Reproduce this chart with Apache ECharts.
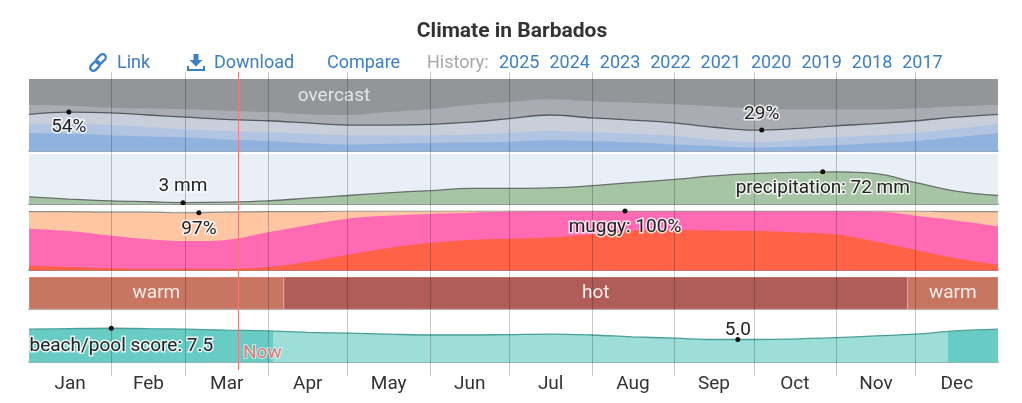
<!DOCTYPE html>
<html>
<head>
<meta charset="utf-8">
<script src="https://cdn.jsdelivr.net/npm/echarts@6/dist/echarts.min.js"></script>
<style>
  html, body { margin: 0; padding: 0; background: #fff; }
  #chart { width: 1022px; height: 403px; }
</style>
</head>
<body>
<div id="chart"></div>
<script>
// jours de l'année où les valeurs ont été relevées
const days = [0, 15, 31, 45, 59, 74, 90, 105, 120, 135, 151, 166, 181, 196, 212, 227, 243, 258, 273, 288, 304, 319, 334, 349, 365];

// couverture nuageuse : limites cumulées en %
const cloudMostlyCloudyTop = [64, 63, 60, 59, 58, 56, 54, 51, 50, 54, 58, 64, 68, 72, 69, 67, 65, 62, 59, 58, 58, 58, 59, 62, 64];
const cloudPartlyTop = [51, 54, 53, 50, 47, 44, 42, 39, 36, 36, 37, 40, 45, 50, 46, 43, 39, 33, 29, 31, 35, 38, 42, 47, 51];
const cloudMostlyClearTop = [38, 38, 36, 33, 30, 28, 26, 24, 22, 22, 22, 23, 25, 28, 26, 24, 21, 16, 12, 15, 19, 22, 25, 31, 38];
const cloudClearTop = [25, 24, 22, 20, 19, 16, 14, 11, 9, 10, 11, 12, 13, 15, 14, 12, 9, 7, 5, 6, 8, 11, 14, 19, 25];

// précipitations (mm)
const precip = [16, 11, 7, 5, 3, 4, 7, 13, 19, 25, 30, 35, 35, 36, 41, 48, 55, 63, 68, 71, 72, 68, 48, 29, 19];

// humidité : limites cumulées en %
const humidTop = [99, 99, 98, 98, 97, 98, 99, 99, 100, 100, 100, 100, 100, 100, 100, 100, 100, 100, 100, 100, 100, 100, 100, 99, 99];
const humidMuggyTop = [70, 66, 58, 52, 49, 51, 64, 76, 87, 92, 95, 97, 99, 100, 100, 100, 100, 100, 100, 100, 100, 99, 92, 84, 74];
const humidOppressiveTop = [7, 5, 3, 2, 2, 2, 5, 14, 26, 37, 46, 51, 53, 55, 60, 67, 68, 67, 66, 64, 60, 48, 34, 20, 9];

// bandes de température
const tempBands = [[0, 96], [96, 331], [331, 365]];
const tempNames = ['warm', 'hot', 'warm'];

// score plage / piscine
const beach = [7.3, 7.4, 7.5, 7.4, 7.3, 7.1, 6.9, 6.6, 6.4, 6.2, 6.0, 6.0, 6.1, 6.2, 6.0, 5.6, 5.3, 5.0, 5.0, 5.1, 5.4, 5.8, 6.2, 6.9, 7.3];
const beachSeason = [[0, 92], [346, 365]];

// mois
const monthNames = ['Jan', 'Feb', 'Mar', 'Apr', 'May', 'Jun', 'Jul', 'Aug', 'Sep', 'Oct', 'Nov', 'Dec'];
const monthMids = [15.5, 45, 74.5, 105, 135.5, 166, 196.5, 227.5, 258, 288.5, 319, 349.5];
const monthStarts = [31, 59, 90, 120, 151, 181, 212, 243, 273, 304, 334];
const nowDay = 78.7;

const years = ['2025', '2024', '2023', '2022', '2021', '2020', '2019', '2018', '2017'];

window.onload = init;

function init() {
    diagrammeClimat();
}

function pairs(values) {
    return days.map((d, i) => [d, values[i]]);
}

function areaSerie(grid, values, color, line) {
    return {
        type: 'line',
        xAxisIndex: grid,
        yAxisIndex: grid,
        data: pairs(values),
        smooth: 0.4,
        showSymbol: false,
        silent: true,
        lineStyle: line || { width: 0 },
        areaStyle: { color: color, opacity: 1 }
    };
}

function pointLabel(coord, text, position, offset) {
    return {
        coord: coord,
        symbol: 'circle',
        symbolSize: 5,
        itemStyle: { color: '#111' },
        label: {
            show: true,
            formatter: text,
            position: position,
            distance: 4,
            offset: offset || [0, 0],
            fontFamily: 'Roboto',
            fontSize: 19,
            color: '#222',
            textBorderColor: 'rgba(255,255,255,0.8)',
            textBorderWidth: 3
        }
    };
}

function diagrammeClimat() {
    let chart = echarts.init(document.getElementById('chart'));

    const panels = [
        { top: 79, height: 72, max: 100, bg: '#939599', base: '#7c8aa3' },
        { top: 154, height: 50, max: 112, bg: '#e8eff7', base: '#6f7a74' },
        { top: 211, height: 59, max: 100, bg: '#f3f7f2', base: '#b5483a' },
        { top: 277, height: 32, max: 1, bg: 'transparent', base: '#8a8080' },
        { top: 317, height: 45, max: 10, bg: 'transparent', base: '#6a9d98' },
        { top: 72, height: 304, max: 304, bg: 'transparent', base: null }
    ];

    let grids = panels.map(p => ({
        left: 29, right: 24, top: p.top, height: p.height,
        show: true, backgroundColor: p.bg, borderWidth: 0
    }));

    let xAxes = panels.map((p, i) => ({
        type: 'value', gridIndex: i, min: 0, max: 365,
        axisLine: { show: !!p.base, onZero: false, lineStyle: { color: p.base || '#000', width: 1.5 } },
        axisTick: { show: false },
        splitLine: { show: false },
        axisLabel: { show: false }
    }));
    // axe des mois
    xAxes[5].axisLabel = {
        show: true,
        customValues: monthMids,
        formatter: v => monthNames[monthMids.indexOf(v)],
        margin: -1,
        fontFamily: 'Roboto',
        fontSize: 19,
        color: '#333'
    };

    let yAxes = panels.map((p, i) => ({
        type: 'value', gridIndex: i, min: 0, max: p.max, show: false
    }));

    let cloudLine = areaSerie(0, cloudPartlyTop, '#c8cfda', { width: 1.3, color: '#555a60' });
    cloudLine.markPoint = {
        data: [
            pointLabel([15, 54], '54%', 'bottom', [0, -1]),
            pointLabel([276, 29], '29%', 'top')
        ]
    };

    let precipSerie = areaSerie(1, precip, '#a6c5a5', { width: 1.3, color: '#6a6f6c' });
    precipSerie.markPoint = {
        data: [
            pointLabel([58, 3], '3 mm', 'top'),
            pointLabel([299, 72], 'precipitation: 72 mm', 'bottom')
        ]
    };

    let humidSerie = areaSerie(2, humidTop, '#ffc6a3', { width: 1.2, color: '#8a8f8a' });
    humidSerie.markPoint = {
        data: [
            pointLabel([64, 97], '97%', 'bottom'),
            pointLabel([224.5, 100], 'muggy: 100%', 'bottom')
        ]
    };

    let tempColors = { warm: '#c87562', hot: '#b05c59' };
    let tempSerie = {
        type: 'custom',
        xAxisIndex: 3,
        yAxisIndex: 3,
        silent: true,
        data: tempBands,
        encode: { x: [0, 1] },
        renderItem: function (params, api) {
            let s = api.coord([api.value(0), 1]);
            let e = api.coord([api.value(1), 0]);
            let name = tempNames[params.dataIndex];
            return {
                type: 'group',
                children: [
                    { type: 'rect', shape: { x: s[0], y: s[1], width: e[0] - s[0], height: e[1] - s[1] },
                      style: { fill: tempColors[name], stroke: 'rgba(255,255,255,0.25)', lineWidth: 1 } },
                    { type: 'text', style: { text: name, x: (s[0] + e[0]) / 2, y: (s[1] + e[1]) / 2,
                      align: 'center', verticalAlign: 'middle', fill: '#fbeee9', font: '19px Roboto' } }
                ]
            };
        }
    };

    let beachArea = {
        type: 'line',
        xAxisIndex: 4,
        yAxisIndex: 4,
        data: pairs(beach),
        smooth: 0.4,
        showSymbol: false,
        silent: true,
        lineStyle: { width: 0 },
        areaStyle: { opacity: 1 }
    };
    let beachLine = {
        type: 'line',
        xAxisIndex: 4,
        yAxisIndex: 4,
        data: pairs(beach),
        smooth: 0.4,
        showSymbol: false,
        silent: true,
        z: 3,
        lineStyle: { width: 1.3, color: '#4a9e97' },
        markPoint: {
            data: [
                pointLabel([31, 7.5], 'beach/pool score: 7.5', 'bottom', [10, 2]),
                pointLabel([267, 5.0], '5.0', 'top', [0, 7])
            ]
        }
    };

    let overlay = {
        type: 'line',
        xAxisIndex: 5,
        yAxisIndex: 5,
        data: [],
        z: 10,
        markLine: {
            silent: true,
            symbol: 'none',
            label: { show: false },
            data: monthStarts.map(d => ({
                xAxis: d,
                lineStyle: { color: 'rgba(0,0,0,0.22)', width: 1, type: 'solid' }
            })).concat([[
                { coord: [nowDay, 6], lineStyle: { color: '#f07a7a', width: 1, type: 'solid' } },
                { coord: [nowDay, 304] }
            ]])
        }
    };

    let series = [
        areaSerie(0, cloudMostlyCloudyTop, '#a9acb2'),
        cloudLine,
        areaSerie(0, cloudMostlyClearTop, '#b1c5e3'),
        areaSerie(0, cloudClearTop, '#90b2de'),
        precipSerie,
        humidSerie,
        areaSerie(2, humidMuggyTop, '#ff6ab3'),
        areaSerie(2, humidOppressiveTop, '#ff6246'),
        tempSerie,
        beachArea,
        beachLine,
        overlay
    ];

    let linkBlue = '#3d80c4';
    let barFont = '18px Roboto';
    let graphics = [
        { type: 'text', x: 512, y: 32, style: { text: 'Climate in Barbados', font: 'bold 21px Roboto', fill: '#333', align: 'center', verticalAlign: 'middle' } },
        // icône lien
        { type: 'rect', x: 95, y: 66, rotation: -Math.PI / 4, shape: { x: -3.2, y: -5.5, width: 6.4, height: 11, r: 3.2 }, style: { fill: 'none', stroke: linkBlue, lineWidth: 2.2 } },
        { type: 'rect', x: 101, y: 59, rotation: -Math.PI / 4, shape: { x: -3.2, y: -5.5, width: 6.4, height: 11, r: 3.2 }, style: { fill: 'none', stroke: linkBlue, lineWidth: 2.2 } },
        { type: 'text', x: 117, y: 63, style: { text: 'Link', font: barFont, fill: linkBlue, verticalAlign: 'middle' } },
        // icône téléchargement
        { type: 'polygon', x: 187, y: 54, shape: { points: [[6.5, 0], [11.5, 0], [11.5, 6], [15.5, 6], [9, 12.5], [2.5, 6], [6.5, 6]] }, style: { fill: linkBlue } },
        { type: 'polygon', x: 187, y: 54, shape: { points: [[0, 12], [2, 12], [2, 15], [16, 15], [16, 12], [18, 12], [18, 17], [0, 17]] }, style: { fill: linkBlue } },
        { type: 'text', x: 214, y: 63, style: { text: 'Download', font: barFont, fill: linkBlue, verticalAlign: 'middle' } },
        { type: 'text', x: 327, y: 63, style: { text: 'Compare', font: barFont, fill: linkBlue, verticalAlign: 'middle' } },
        { type: 'text', x: 427, y: 63, style: { text: 'History:', font: barFont, fill: '#a8a8a8', verticalAlign: 'middle' } },
        // étiquettes des panneaux
        { type: 'text', x: 334, y: 96, style: { text: 'overcast', font: '19px Roboto', fill: '#e4e5e7', align: 'center', verticalAlign: 'middle' } },
        { type: 'text', x: 110, y: 137, style: { text: 'clear', font: '19px Roboto', fill: '#e8eef8', verticalAlign: 'middle' } },
        { type: 'text', x: 243, y: 353, z: 20, style: { text: 'Now', font: '19px Roboto', fill: '#e07a78', verticalAlign: 'middle', stroke: 'rgba(255,255,255,0.6)', lineWidth: 2 } }
    ];
    years.forEach((y, i) => {
        graphics.push({ type: 'text', x: 499 + i * 50.4, y: 63, style: { text: y, font: barFont, fill: linkBlue, verticalAlign: 'middle' } });
    });

    let options = {
        animation: false,
        grid: grids,
        xAxis: xAxes,
        yAxis: yAxes,
        visualMap: {
            type: 'piecewise',
            show: false,
            dimension: 0,
            seriesIndex: 9,
            pieces: [
                { gte: beachSeason[0][0], lte: beachSeason[0][1], color: '#69ccc4' },
                { gt: beachSeason[0][1], lt: beachSeason[1][0], color: '#9ddfd8' },
                { gte: beachSeason[1][0], lte: beachSeason[1][1], color: '#69ccc4' }
            ]
        },
        graphic: graphics,
        series: series
    };

    chart.setOption(options);
}
</script>
</body>
</html>
